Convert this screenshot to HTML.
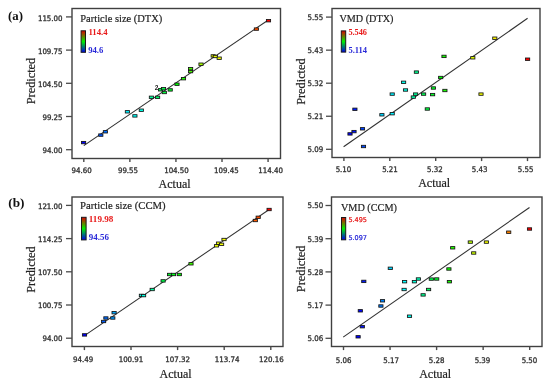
<!DOCTYPE html>
<html><head><meta charset="utf-8"><title>Predicted vs Actual</title>
<style>html,body{margin:0;padding:0;background:#fff;}body{width:550px;height:386px;overflow:hidden;}svg{display:block;}</style>
</head><body>
<svg width="550" height="386" viewBox="0 0 550 386"><defs><linearGradient id="gA" x1="0" y1="0" x2="0" y2="1"><stop offset="0" stop-color="#e00000"/><stop offset="0.5" stop-color="#00f000"/><stop offset="1" stop-color="#0000e8"/></linearGradient><linearGradient id="gB" x1="0" y1="0" x2="0" y2="1"><stop offset="0" stop-color="#e00000"/><stop offset="0.5" stop-color="#00f000"/><stop offset="1" stop-color="#0000e8"/></linearGradient><linearGradient id="gC" x1="0" y1="0" x2="0" y2="1"><stop offset="0" stop-color="#e00000"/><stop offset="0.5" stop-color="#00f000"/><stop offset="1" stop-color="#0000e8"/></linearGradient><linearGradient id="gD" x1="0" y1="0" x2="0" y2="1"><stop offset="0" stop-color="#e00000"/><stop offset="0.5" stop-color="#00f000"/><stop offset="1" stop-color="#0000e8"/></linearGradient></defs><rect width="550" height="386" fill="#fff"/><rect x="72" y="8.5" width="208.5" height="150" fill="none" stroke="#404040" stroke-width="1.4"/>
<line x1="66" y1="16.9" x2="72" y2="16.9" stroke="#4a4a4a" stroke-width="1.3"/>
<text x="62.6" y="20.6" font-size="7.5" font-family="'DejaVu Sans Condensed', 'DejaVu Sans', sans-serif" fill="#333" stroke="#333" stroke-width="0.32" text-anchor="end" textLength="24.7" lengthAdjust="spacingAndGlyphs">115.00</text>
<line x1="66" y1="50.1" x2="72" y2="50.1" stroke="#4a4a4a" stroke-width="1.3"/>
<text x="62.6" y="53.8" font-size="7.5" font-family="'DejaVu Sans Condensed', 'DejaVu Sans', sans-serif" fill="#333" stroke="#333" stroke-width="0.32" text-anchor="end" textLength="24.7" lengthAdjust="spacingAndGlyphs">109.75</text>
<line x1="66" y1="83.3" x2="72" y2="83.3" stroke="#4a4a4a" stroke-width="1.3"/>
<text x="62.6" y="87" font-size="7.5" font-family="'DejaVu Sans Condensed', 'DejaVu Sans', sans-serif" fill="#333" stroke="#333" stroke-width="0.32" text-anchor="end" textLength="24.7" lengthAdjust="spacingAndGlyphs">104.50</text>
<line x1="66" y1="116.5" x2="72" y2="116.5" stroke="#4a4a4a" stroke-width="1.3"/>
<text x="62.6" y="120.2" font-size="7.5" font-family="'DejaVu Sans Condensed', 'DejaVu Sans', sans-serif" fill="#333" stroke="#333" stroke-width="0.32" text-anchor="end" textLength="20.2" lengthAdjust="spacingAndGlyphs">99.25</text>
<line x1="66" y1="149.7" x2="72" y2="149.7" stroke="#4a4a4a" stroke-width="1.3"/>
<text x="62.6" y="153.4" font-size="7.5" font-family="'DejaVu Sans Condensed', 'DejaVu Sans', sans-serif" fill="#333" stroke="#333" stroke-width="0.32" text-anchor="end" textLength="20.2" lengthAdjust="spacingAndGlyphs">94.00</text>
<line x1="83.8" y1="158.5" x2="83.8" y2="162.1" stroke="#4a4a4a" stroke-width="1.4"/>
<text x="81.7" y="173" font-size="7.5" font-family="'DejaVu Sans Condensed', 'DejaVu Sans', sans-serif" fill="#333" stroke="#333" stroke-width="0.32" text-anchor="middle" textLength="20.2" lengthAdjust="spacingAndGlyphs">94.60</text>
<line x1="129.87" y1="158.5" x2="129.87" y2="162.1" stroke="#4a4a4a" stroke-width="1.4"/>
<text x="128" y="173" font-size="7.5" font-family="'DejaVu Sans Condensed', 'DejaVu Sans', sans-serif" fill="#333" stroke="#333" stroke-width="0.32" text-anchor="middle" textLength="20.2" lengthAdjust="spacingAndGlyphs">99.55</text>
<line x1="175.94" y1="158.5" x2="175.94" y2="162.1" stroke="#4a4a4a" stroke-width="1.4"/>
<text x="176.5" y="173" font-size="7.5" font-family="'DejaVu Sans Condensed', 'DejaVu Sans', sans-serif" fill="#333" stroke="#333" stroke-width="0.32" text-anchor="middle" textLength="24.7" lengthAdjust="spacingAndGlyphs">104.50</text>
<line x1="222.01" y1="158.5" x2="222.01" y2="162.1" stroke="#4a4a4a" stroke-width="1.4"/>
<text x="226.3" y="173" font-size="7.5" font-family="'DejaVu Sans Condensed', 'DejaVu Sans', sans-serif" fill="#333" stroke="#333" stroke-width="0.32" text-anchor="middle" textLength="24.7" lengthAdjust="spacingAndGlyphs">109.45</text>
<line x1="268.08" y1="158.5" x2="268.08" y2="162.1" stroke="#4a4a4a" stroke-width="1.4"/>
<text x="270.6" y="173" font-size="7.5" font-family="'DejaVu Sans Condensed', 'DejaVu Sans', sans-serif" fill="#333" stroke="#333" stroke-width="0.32" text-anchor="middle" textLength="24.7" lengthAdjust="spacingAndGlyphs">114.40</text>
<text x="174.6" y="187.8" font-size="12" font-family="'Liberation Serif', 'Times New Roman', serif" fill="#222" stroke="#222" stroke-width="0.2" text-anchor="middle" textLength="32" lengthAdjust="spacingAndGlyphs">Actual</text>
<text x="35" y="81" font-size="12" font-family="'Liberation Serif', 'Times New Roman', serif" fill="#222" stroke="#222" stroke-width="0.2" text-anchor="middle" textLength="46.5" lengthAdjust="spacingAndGlyphs" transform="rotate(-90 35 81)">Predicted</text>
<text x="80.3" y="21.7" font-size="11.3" font-family="'Liberation Serif', 'Times New Roman', serif" fill="#222" stroke="#222" stroke-width="0.2" textLength="82" lengthAdjust="spacingAndGlyphs">Particle size (DTX)</text>
<rect x="81.1" y="30.8" width="4.4" height="21.5" fill="url(#gA)" stroke="#1a1a1a" stroke-width="1"/>
<text x="88.4" y="35.1" font-size="8" font-family="'Liberation Serif', 'Times New Roman', serif" fill="#e81818" font-weight="bold" textLength="19.2" lengthAdjust="spacingAndGlyphs">114.4</text>
<text x="88.2" y="52.5" font-size="8" font-family="'Liberation Serif', 'Times New Roman', serif" fill="#2828d8" font-weight="bold" textLength="15.1" lengthAdjust="spacingAndGlyphs">94.6</text>
<line x1="83.8" y1="145.6" x2="268" y2="20.2" stroke="#303030" stroke-width="1.05"/>
<rect x="81.5" y="141.4" width="4.2" height="2.4" fill="#0000ff" stroke="#141414" stroke-width="0.85"/>
<rect x="98.7" y="133.9" width="4.2" height="2.4" fill="#0056ff" stroke="#141414" stroke-width="0.85"/>
<rect x="103.3" y="130.6" width="4.2" height="2.4" fill="#0070ff" stroke="#141414" stroke-width="0.85"/>
<rect x="125.3" y="110.6" width="4.2" height="2.4" fill="#00efff" stroke="#141414" stroke-width="0.85"/>
<rect x="132.8" y="114.7" width="4.2" height="2.4" fill="#00fffa" stroke="#141414" stroke-width="0.85"/>
<rect x="139.2" y="109" width="4.2" height="2.4" fill="#00ffe7" stroke="#141414" stroke-width="0.85"/>
<rect x="149.3" y="96.1" width="4.2" height="2.4" fill="#00ff9f" stroke="#141414" stroke-width="0.85"/>
<rect x="155.5" y="96.1" width="4.2" height="2.4" fill="#00ff6b" stroke="#141414" stroke-width="0.85"/>
<rect x="158.5" y="88.6" width="4.2" height="2.4" fill="#00ff52" stroke="#141414" stroke-width="0.85"/>
<rect x="161.4" y="87.5" width="4.2" height="2.4" fill="#00ff42" stroke="#141414" stroke-width="0.85"/>
<rect x="162.2" y="91.3" width="4.2" height="2.4" fill="#00ff3e" stroke="#141414" stroke-width="0.85"/>
<rect x="168.1" y="88.7" width="4.2" height="2.4" fill="#00ff23" stroke="#141414" stroke-width="0.85"/>
<rect x="174.9" y="83" width="4.2" height="2.4" fill="#00ff03" stroke="#141414" stroke-width="0.85"/>
<rect x="181.4" y="77.5" width="4.2" height="2.4" fill="#1eff00" stroke="#141414" stroke-width="0.85"/>
<rect x="188.5" y="67.5" width="4.2" height="2.4" fill="#46ff00" stroke="#141414" stroke-width="0.85"/>
<rect x="188.5" y="70.4" width="4.2" height="2.4" fill="#46ff00" stroke="#141414" stroke-width="0.85"/>
<rect x="198.9" y="63" width="4.2" height="2.4" fill="#a6ff00" stroke="#141414" stroke-width="0.85"/>
<rect x="211.1" y="54.7" width="4.2" height="2.4" fill="#eaff00" stroke="#141414" stroke-width="0.85"/>
<rect x="213.2" y="55.3" width="4.2" height="2.4" fill="#ecff00" stroke="#141414" stroke-width="0.85"/>
<rect x="217.1" y="57" width="4.2" height="2.4" fill="#f2ff00" stroke="#141414" stroke-width="0.85"/>
<rect x="254.3" y="27.9" width="4.2" height="2.4" fill="#ff5000" stroke="#141414" stroke-width="0.85"/>
<rect x="266.4" y="19.5" width="4.2" height="2.4" fill="#ff0000" stroke="#141414" stroke-width="0.85"/>
<text x="154.8" y="89.6" font-size="6.5" font-family="'Liberation Sans', Arial, sans-serif" fill="#222" font-weight="bold">2</text>
<rect x="332" y="8.5" width="208" height="149" fill="none" stroke="#404040" stroke-width="1.4"/>
<line x1="326" y1="17.1" x2="332" y2="17.1" stroke="#4a4a4a" stroke-width="1.3"/>
<text x="323.3" y="19.5" font-size="7.7" font-family="'DejaVu Sans Condensed', 'DejaVu Sans', sans-serif" fill="#333" stroke="#333" stroke-width="0.32" text-anchor="end" textLength="15.7" lengthAdjust="spacingAndGlyphs">5.55</text>
<line x1="326" y1="50.15" x2="332" y2="50.15" stroke="#4a4a4a" stroke-width="1.3"/>
<text x="323.3" y="52.55" font-size="7.7" font-family="'DejaVu Sans Condensed', 'DejaVu Sans', sans-serif" fill="#333" stroke="#333" stroke-width="0.32" text-anchor="end" textLength="15.7" lengthAdjust="spacingAndGlyphs">5.43</text>
<line x1="326" y1="83.2" x2="332" y2="83.2" stroke="#4a4a4a" stroke-width="1.3"/>
<text x="323.3" y="85.6" font-size="7.7" font-family="'DejaVu Sans Condensed', 'DejaVu Sans', sans-serif" fill="#333" stroke="#333" stroke-width="0.32" text-anchor="end" textLength="15.7" lengthAdjust="spacingAndGlyphs">5.32</text>
<line x1="326" y1="116.25" x2="332" y2="116.25" stroke="#4a4a4a" stroke-width="1.3"/>
<text x="323.3" y="118.65" font-size="7.7" font-family="'DejaVu Sans Condensed', 'DejaVu Sans', sans-serif" fill="#333" stroke="#333" stroke-width="0.32" text-anchor="end" textLength="15.7" lengthAdjust="spacingAndGlyphs">5.21</text>
<line x1="326" y1="149.3" x2="332" y2="149.3" stroke="#4a4a4a" stroke-width="1.3"/>
<text x="323.3" y="151.7" font-size="7.7" font-family="'DejaVu Sans Condensed', 'DejaVu Sans', sans-serif" fill="#333" stroke="#333" stroke-width="0.32" text-anchor="end" textLength="15.7" lengthAdjust="spacingAndGlyphs">5.09</text>
<line x1="343.9" y1="157.5" x2="343.9" y2="161.1" stroke="#4a4a4a" stroke-width="1.4"/>
<text x="343.5" y="171.9" font-size="7.7" font-family="'DejaVu Sans Condensed', 'DejaVu Sans', sans-serif" fill="#333" stroke="#333" stroke-width="0.32" text-anchor="middle" textLength="15.7" lengthAdjust="spacingAndGlyphs">5.10</text>
<line x1="389.8" y1="157.5" x2="389.8" y2="161.1" stroke="#4a4a4a" stroke-width="1.4"/>
<text x="390" y="171.9" font-size="7.7" font-family="'DejaVu Sans Condensed', 'DejaVu Sans', sans-serif" fill="#333" stroke="#333" stroke-width="0.32" text-anchor="middle" textLength="15.7" lengthAdjust="spacingAndGlyphs">5.21</text>
<line x1="435.7" y1="157.5" x2="435.7" y2="161.1" stroke="#4a4a4a" stroke-width="1.4"/>
<text x="434.8" y="171.9" font-size="7.7" font-family="'DejaVu Sans Condensed', 'DejaVu Sans', sans-serif" fill="#333" stroke="#333" stroke-width="0.32" text-anchor="middle" textLength="15.7" lengthAdjust="spacingAndGlyphs">5.32</text>
<line x1="481.6" y1="157.5" x2="481.6" y2="161.1" stroke="#4a4a4a" stroke-width="1.4"/>
<text x="479.7" y="171.9" font-size="7.7" font-family="'DejaVu Sans Condensed', 'DejaVu Sans', sans-serif" fill="#333" stroke="#333" stroke-width="0.32" text-anchor="middle" textLength="15.7" lengthAdjust="spacingAndGlyphs">5.43</text>
<line x1="527.5" y1="157.5" x2="527.5" y2="161.1" stroke="#4a4a4a" stroke-width="1.4"/>
<text x="525.7" y="171.9" font-size="7.7" font-family="'DejaVu Sans Condensed', 'DejaVu Sans', sans-serif" fill="#333" stroke="#333" stroke-width="0.32" text-anchor="middle" textLength="15.7" lengthAdjust="spacingAndGlyphs">5.55</text>
<text x="434.2" y="186.9" font-size="12" font-family="'Liberation Serif', 'Times New Roman', serif" fill="#222" stroke="#222" stroke-width="0.2" text-anchor="middle" textLength="32" lengthAdjust="spacingAndGlyphs">Actual</text>
<text x="305" y="81.6" font-size="12" font-family="'Liberation Serif', 'Times New Roman', serif" fill="#222" stroke="#222" stroke-width="0.2" text-anchor="middle" textLength="46.5" lengthAdjust="spacingAndGlyphs" transform="rotate(-90 305 81.6)">Predicted</text>
<text x="339.4" y="22.1" font-size="11.3" font-family="'Liberation Serif', 'Times New Roman', serif" fill="#222" stroke="#222" stroke-width="0.2" textLength="54" lengthAdjust="spacingAndGlyphs">VMD (DTX)</text>
<rect x="341.3" y="30.9" width="4.4" height="21.2" fill="url(#gB)" stroke="#1a1a1a" stroke-width="1"/>
<text x="348.4" y="35.2" font-size="8" font-family="'Liberation Serif', 'Times New Roman', serif" fill="#e81818" font-weight="bold" textLength="18.6" lengthAdjust="spacingAndGlyphs">5.546</text>
<text x="348.4" y="52.6" font-size="8" font-family="'Liberation Serif', 'Times New Roman', serif" fill="#2828d8" font-weight="bold" textLength="18.6" lengthAdjust="spacingAndGlyphs">5.114</text>
<line x1="343.6" y1="146.8" x2="527.6" y2="18.3" stroke="#303030" stroke-width="1.05"/>
<rect x="352.8" y="108.1" width="4.2" height="2.4" fill="#001bff" stroke="#141414" stroke-width="0.85"/>
<rect x="347.9" y="132.7" width="4.2" height="2.4" fill="#0002ff" stroke="#141414" stroke-width="0.85"/>
<rect x="351.9" y="130.4" width="4.2" height="2.4" fill="#0017ff" stroke="#141414" stroke-width="0.85"/>
<rect x="360.4" y="127.6" width="4.2" height="2.4" fill="#0043ff" stroke="#141414" stroke-width="0.85"/>
<rect x="361.4" y="145.3" width="4.2" height="2.4" fill="#0049ff" stroke="#141414" stroke-width="0.85"/>
<rect x="379.8" y="113.6" width="4.2" height="2.4" fill="#00d5ff" stroke="#141414" stroke-width="0.85"/>
<rect x="390.1" y="112.5" width="4.2" height="2.4" fill="#00f1ff" stroke="#141414" stroke-width="0.85"/>
<rect x="390.1" y="92.9" width="4.2" height="2.4" fill="#00f1ff" stroke="#141414" stroke-width="0.85"/>
<rect x="401.5" y="81.1" width="4.2" height="2.4" fill="#00ffed" stroke="#141414" stroke-width="0.85"/>
<rect x="403.4" y="88.8" width="4.2" height="2.4" fill="#00ffe4" stroke="#141414" stroke-width="0.85"/>
<rect x="411.2" y="95.9" width="4.2" height="2.4" fill="#00ffaa" stroke="#141414" stroke-width="0.85"/>
<rect x="413.5" y="92.9" width="4.2" height="2.4" fill="#00ff98" stroke="#141414" stroke-width="0.85"/>
<rect x="414.3" y="70.9" width="4.2" height="2.4" fill="#00ff91" stroke="#141414" stroke-width="0.85"/>
<rect x="421.5" y="92.9" width="4.2" height="2.4" fill="#00ff53" stroke="#141414" stroke-width="0.85"/>
<rect x="425.2" y="107.8" width="4.2" height="2.4" fill="#00ff3e" stroke="#141414" stroke-width="0.85"/>
<rect x="430.5" y="93.4" width="4.2" height="2.4" fill="#00ff25" stroke="#141414" stroke-width="0.85"/>
<rect x="431.3" y="86.8" width="4.2" height="2.4" fill="#00ff21" stroke="#141414" stroke-width="0.85"/>
<rect x="438.6" y="76.3" width="4.2" height="2.4" fill="#02ff00" stroke="#141414" stroke-width="0.85"/>
<rect x="442.8" y="89.3" width="4.2" height="2.4" fill="#19ff00" stroke="#141414" stroke-width="0.85"/>
<rect x="441.9" y="55.2" width="4.2" height="2.4" fill="#14ff00" stroke="#141414" stroke-width="0.85"/>
<rect x="470.7" y="56.6" width="4.2" height="2.4" fill="#e1ff00" stroke="#141414" stroke-width="0.85"/>
<rect x="492.7" y="37" width="4.2" height="2.4" fill="#fff700" stroke="#141414" stroke-width="0.85"/>
<rect x="525.5" y="58" width="4.2" height="2.4" fill="#ff0000" stroke="#141414" stroke-width="0.85"/>
<rect x="478.9" y="92.9" width="4.2" height="2.4" fill="#f3ff00" stroke="#141414" stroke-width="0.85"/>
<rect x="72" y="197" width="211" height="149.5" fill="none" stroke="#404040" stroke-width="1.4"/>
<line x1="66" y1="205.4" x2="72" y2="205.4" stroke="#4a4a4a" stroke-width="1.3"/>
<text x="62.6" y="208.6" font-size="7.5" font-family="'DejaVu Sans Condensed', 'DejaVu Sans', sans-serif" fill="#333" stroke="#333" stroke-width="0.32" text-anchor="end" textLength="24.7" lengthAdjust="spacingAndGlyphs">121.00</text>
<line x1="66" y1="238.6" x2="72" y2="238.6" stroke="#4a4a4a" stroke-width="1.3"/>
<text x="62.6" y="241.8" font-size="7.5" font-family="'DejaVu Sans Condensed', 'DejaVu Sans', sans-serif" fill="#333" stroke="#333" stroke-width="0.32" text-anchor="end" textLength="24.7" lengthAdjust="spacingAndGlyphs">114.25</text>
<line x1="66" y1="271.8" x2="72" y2="271.8" stroke="#4a4a4a" stroke-width="1.3"/>
<text x="62.6" y="275" font-size="7.5" font-family="'DejaVu Sans Condensed', 'DejaVu Sans', sans-serif" fill="#333" stroke="#333" stroke-width="0.32" text-anchor="end" textLength="24.7" lengthAdjust="spacingAndGlyphs">107.50</text>
<line x1="66" y1="305" x2="72" y2="305" stroke="#4a4a4a" stroke-width="1.3"/>
<text x="62.6" y="308.2" font-size="7.5" font-family="'DejaVu Sans Condensed', 'DejaVu Sans', sans-serif" fill="#333" stroke="#333" stroke-width="0.32" text-anchor="end" textLength="24.7" lengthAdjust="spacingAndGlyphs">100.75</text>
<line x1="66" y1="338.2" x2="72" y2="338.2" stroke="#4a4a4a" stroke-width="1.3"/>
<text x="62.6" y="341.4" font-size="7.5" font-family="'DejaVu Sans Condensed', 'DejaVu Sans', sans-serif" fill="#333" stroke="#333" stroke-width="0.32" text-anchor="end" textLength="20.2" lengthAdjust="spacingAndGlyphs">94.00</text>
<line x1="84.4" y1="346.5" x2="84.4" y2="350.1" stroke="#4a4a4a" stroke-width="1.4"/>
<text x="83.1" y="362.2" font-size="7.5" font-family="'DejaVu Sans Condensed', 'DejaVu Sans', sans-serif" fill="#333" stroke="#333" stroke-width="0.32" text-anchor="middle" textLength="20.2" lengthAdjust="spacingAndGlyphs">94.49</text>
<line x1="131" y1="346.5" x2="131" y2="350.1" stroke="#4a4a4a" stroke-width="1.4"/>
<text x="131" y="362.2" font-size="7.5" font-family="'DejaVu Sans Condensed', 'DejaVu Sans', sans-serif" fill="#333" stroke="#333" stroke-width="0.32" text-anchor="middle" textLength="24.7" lengthAdjust="spacingAndGlyphs">100.91</text>
<line x1="177.6" y1="346.5" x2="177.6" y2="350.1" stroke="#4a4a4a" stroke-width="1.4"/>
<text x="177.6" y="362.2" font-size="7.5" font-family="'DejaVu Sans Condensed', 'DejaVu Sans', sans-serif" fill="#333" stroke="#333" stroke-width="0.32" text-anchor="middle" textLength="24.7" lengthAdjust="spacingAndGlyphs">107.32</text>
<line x1="224.2" y1="346.5" x2="224.2" y2="350.1" stroke="#4a4a4a" stroke-width="1.4"/>
<text x="227.2" y="362.2" font-size="7.5" font-family="'DejaVu Sans Condensed', 'DejaVu Sans', sans-serif" fill="#333" stroke="#333" stroke-width="0.32" text-anchor="middle" textLength="24.7" lengthAdjust="spacingAndGlyphs">113.74</text>
<line x1="270.8" y1="346.5" x2="270.8" y2="350.1" stroke="#4a4a4a" stroke-width="1.4"/>
<text x="271.3" y="362.2" font-size="7.5" font-family="'DejaVu Sans Condensed', 'DejaVu Sans', sans-serif" fill="#333" stroke="#333" stroke-width="0.32" text-anchor="middle" textLength="24.7" lengthAdjust="spacingAndGlyphs">120.16</text>
<text x="175.6" y="378" font-size="12" font-family="'Liberation Serif', 'Times New Roman', serif" fill="#222" stroke="#222" stroke-width="0.2" text-anchor="middle" textLength="32" lengthAdjust="spacingAndGlyphs">Actual</text>
<text x="35.1" y="269.5" font-size="12" font-family="'Liberation Serif', 'Times New Roman', serif" fill="#222" stroke="#222" stroke-width="0.2" text-anchor="middle" textLength="46.5" lengthAdjust="spacingAndGlyphs" transform="rotate(-90 35.1 269.5)">Predicted</text>
<text x="80.1" y="209.4" font-size="11.3" font-family="'Liberation Serif', 'Times New Roman', serif" fill="#222" stroke="#222" stroke-width="0.2" textLength="85.5" lengthAdjust="spacingAndGlyphs">Particle size (CCM)</text>
<rect x="81.5" y="217.3" width="4.6" height="22.6" fill="url(#gC)" stroke="#1a1a1a" stroke-width="1"/>
<text x="88.8" y="222.1" font-size="8" font-family="'Liberation Serif', 'Times New Roman', serif" fill="#e81818" font-weight="bold" textLength="24.5" lengthAdjust="spacingAndGlyphs">119.98</text>
<text x="88.8" y="240.4" font-size="8" font-family="'Liberation Serif', 'Times New Roman', serif" fill="#2828d8" font-weight="bold" textLength="20.1" lengthAdjust="spacingAndGlyphs">94.56</text>
<line x1="84.5" y1="335.6" x2="269.2" y2="209.5" stroke="#303030" stroke-width="1.05"/>
<rect x="82.4" y="333.7" width="4.2" height="2.4" fill="#0000ff" stroke="#141414" stroke-width="0.85"/>
<rect x="101.5" y="320.3" width="4.2" height="2.4" fill="#005eff" stroke="#141414" stroke-width="0.85"/>
<rect x="103.8" y="316.8" width="4.2" height="2.4" fill="#006cff" stroke="#141414" stroke-width="0.85"/>
<rect x="110.7" y="316.8" width="4.2" height="2.4" fill="#0097ff" stroke="#141414" stroke-width="0.85"/>
<rect x="112" y="311.5" width="4.2" height="2.4" fill="#00a6ff" stroke="#141414" stroke-width="0.85"/>
<rect x="139.3" y="294.2" width="4.2" height="2.4" fill="#00ffeb" stroke="#141414" stroke-width="0.85"/>
<rect x="141.5" y="294.4" width="4.2" height="2.4" fill="#00ffdf" stroke="#141414" stroke-width="0.85"/>
<rect x="150.1" y="288.3" width="4.2" height="2.4" fill="#00ffa2" stroke="#141414" stroke-width="0.85"/>
<rect x="161" y="279.7" width="4.2" height="2.4" fill="#00ff49" stroke="#141414" stroke-width="0.85"/>
<rect x="167.5" y="273.3" width="4.2" height="2.4" fill="#00ff2b" stroke="#141414" stroke-width="0.85"/>
<rect x="171.4" y="273.3" width="4.2" height="2.4" fill="#00ff19" stroke="#141414" stroke-width="0.85"/>
<rect x="177.2" y="273.3" width="4.2" height="2.4" fill="#02ff00" stroke="#141414" stroke-width="0.85"/>
<rect x="188.9" y="262.6" width="4.2" height="2.4" fill="#3fff00" stroke="#141414" stroke-width="0.85"/>
<rect x="214.4" y="244.6" width="4.2" height="2.4" fill="#ecff00" stroke="#141414" stroke-width="0.85"/>
<rect x="216.4" y="242" width="4.2" height="2.4" fill="#efff00" stroke="#141414" stroke-width="0.85"/>
<rect x="219.5" y="243.1" width="4.2" height="2.4" fill="#f3ff00" stroke="#141414" stroke-width="0.85"/>
<rect x="221.9" y="238.3" width="4.2" height="2.4" fill="#f7ff00" stroke="#141414" stroke-width="0.85"/>
<rect x="253.2" y="219.3" width="4.2" height="2.4" fill="#ff5a00" stroke="#141414" stroke-width="0.85"/>
<rect x="256.1" y="216.1" width="4.2" height="2.4" fill="#ff4d00" stroke="#141414" stroke-width="0.85"/>
<rect x="267" y="208.3" width="4.2" height="2.4" fill="#ff0200" stroke="#141414" stroke-width="0.85"/>
<rect x="331.5" y="197" width="210.5" height="149.5" fill="none" stroke="#404040" stroke-width="1.4"/>
<line x1="325.5" y1="205.5" x2="331.5" y2="205.5" stroke="#4a4a4a" stroke-width="1.3"/>
<text x="323.2" y="208.3" font-size="7.7" font-family="'DejaVu Sans Condensed', 'DejaVu Sans', sans-serif" fill="#333" stroke="#333" stroke-width="0.32" text-anchor="end" textLength="15.7" lengthAdjust="spacingAndGlyphs">5.50</text>
<line x1="325.5" y1="238.7" x2="331.5" y2="238.7" stroke="#4a4a4a" stroke-width="1.3"/>
<text x="323.2" y="241.5" font-size="7.7" font-family="'DejaVu Sans Condensed', 'DejaVu Sans', sans-serif" fill="#333" stroke="#333" stroke-width="0.32" text-anchor="end" textLength="15.7" lengthAdjust="spacingAndGlyphs">5.39</text>
<line x1="325.5" y1="271.9" x2="331.5" y2="271.9" stroke="#4a4a4a" stroke-width="1.3"/>
<text x="323.2" y="274.7" font-size="7.7" font-family="'DejaVu Sans Condensed', 'DejaVu Sans', sans-serif" fill="#333" stroke="#333" stroke-width="0.32" text-anchor="end" textLength="15.7" lengthAdjust="spacingAndGlyphs">5.28</text>
<line x1="325.5" y1="305.1" x2="331.5" y2="305.1" stroke="#4a4a4a" stroke-width="1.3"/>
<text x="323.2" y="307.9" font-size="7.7" font-family="'DejaVu Sans Condensed', 'DejaVu Sans', sans-serif" fill="#333" stroke="#333" stroke-width="0.32" text-anchor="end" textLength="15.7" lengthAdjust="spacingAndGlyphs">5.17</text>
<line x1="325.5" y1="338.3" x2="331.5" y2="338.3" stroke="#4a4a4a" stroke-width="1.3"/>
<text x="323.2" y="341.1" font-size="7.7" font-family="'DejaVu Sans Condensed', 'DejaVu Sans', sans-serif" fill="#333" stroke="#333" stroke-width="0.32" text-anchor="end" textLength="15.7" lengthAdjust="spacingAndGlyphs">5.06</text>
<line x1="343.5" y1="346.5" x2="343.5" y2="350.1" stroke="#4a4a4a" stroke-width="1.4"/>
<text x="343.7" y="363.3" font-size="7.7" font-family="'DejaVu Sans Condensed', 'DejaVu Sans', sans-serif" fill="#333" stroke="#333" stroke-width="0.32" text-anchor="middle" textLength="15.7" lengthAdjust="spacingAndGlyphs">5.06</text>
<line x1="390.05" y1="346.5" x2="390.05" y2="350.1" stroke="#4a4a4a" stroke-width="1.4"/>
<text x="391.1" y="363.3" font-size="7.7" font-family="'DejaVu Sans Condensed', 'DejaVu Sans', sans-serif" fill="#333" stroke="#333" stroke-width="0.32" text-anchor="middle" textLength="15.7" lengthAdjust="spacingAndGlyphs">5.17</text>
<line x1="436.6" y1="346.5" x2="436.6" y2="350.1" stroke="#4a4a4a" stroke-width="1.4"/>
<text x="436.6" y="363.3" font-size="7.7" font-family="'DejaVu Sans Condensed', 'DejaVu Sans', sans-serif" fill="#333" stroke="#333" stroke-width="0.32" text-anchor="middle" textLength="15.7" lengthAdjust="spacingAndGlyphs">5.28</text>
<line x1="483.15" y1="346.5" x2="483.15" y2="350.1" stroke="#4a4a4a" stroke-width="1.4"/>
<text x="482.5" y="363.3" font-size="7.7" font-family="'DejaVu Sans Condensed', 'DejaVu Sans', sans-serif" fill="#333" stroke="#333" stroke-width="0.32" text-anchor="middle" textLength="15.7" lengthAdjust="spacingAndGlyphs">5.39</text>
<line x1="529.7" y1="346.5" x2="529.7" y2="350.1" stroke="#4a4a4a" stroke-width="1.4"/>
<text x="529.5" y="363.3" font-size="7.7" font-family="'DejaVu Sans Condensed', 'DejaVu Sans', sans-serif" fill="#333" stroke="#333" stroke-width="0.32" text-anchor="middle" textLength="15.7" lengthAdjust="spacingAndGlyphs">5.50</text>
<text x="435.2" y="378" font-size="12" font-family="'Liberation Serif', 'Times New Roman', serif" fill="#222" stroke="#222" stroke-width="0.2" text-anchor="middle" textLength="32" lengthAdjust="spacingAndGlyphs">Actual</text>
<text x="305" y="268.9" font-size="12" font-family="'Liberation Serif', 'Times New Roman', serif" fill="#222" stroke="#222" stroke-width="0.2" text-anchor="middle" textLength="46.5" lengthAdjust="spacingAndGlyphs" transform="rotate(-90 305 268.9)">Predicted</text>
<text x="340.9" y="210.8" font-size="11.3" font-family="'Liberation Serif', 'Times New Roman', serif" fill="#222" stroke="#222" stroke-width="0.2" textLength="56" lengthAdjust="spacingAndGlyphs">VMD (CCM)</text>
<rect x="341.5" y="217.5" width="4.2" height="22.3" fill="url(#gD)" stroke="#1a1a1a" stroke-width="1"/>
<text x="348.4" y="221.8" font-size="6.6" font-family="'DejaVu Sans Condensed', 'DejaVu Sans', sans-serif" fill="#e81818" stroke="#e81818" stroke-width="0.2" textLength="18.6" lengthAdjust="spacingAndGlyphs">5.495</text>
<text x="348.4" y="240.3" font-size="6.6" font-family="'DejaVu Sans Condensed', 'DejaVu Sans', sans-serif" fill="#2828d8" stroke="#2828d8" stroke-width="0.2" textLength="18.6" lengthAdjust="spacingAndGlyphs">5.097</text>
<line x1="343.2" y1="337.1" x2="529.5" y2="207.5" stroke="#303030" stroke-width="1.05"/>
<rect x="356" y="335.6" width="4.2" height="2.4" fill="#0000ff" stroke="#141414" stroke-width="0.85"/>
<rect x="360.2" y="325.5" width="4.2" height="2.4" fill="#0011ff" stroke="#141414" stroke-width="0.85"/>
<rect x="358.2" y="309.6" width="4.2" height="2.4" fill="#0006ff" stroke="#141414" stroke-width="0.85"/>
<rect x="361.7" y="280.2" width="4.2" height="2.4" fill="#0019ff" stroke="#141414" stroke-width="0.85"/>
<rect x="378.8" y="304.8" width="4.2" height="2.4" fill="#007bff" stroke="#141414" stroke-width="0.85"/>
<rect x="380.4" y="299.6" width="4.2" height="2.4" fill="#0086ff" stroke="#141414" stroke-width="0.85"/>
<rect x="388.2" y="267.1" width="4.2" height="2.4" fill="#00d5ff" stroke="#141414" stroke-width="0.85"/>
<rect x="402.5" y="280.5" width="4.2" height="2.4" fill="#00feff" stroke="#141414" stroke-width="0.85"/>
<rect x="402" y="288.3" width="4.2" height="2.4" fill="#00fdff" stroke="#141414" stroke-width="0.85"/>
<rect x="407.4" y="315" width="4.2" height="2.4" fill="#00fff1" stroke="#141414" stroke-width="0.85"/>
<rect x="412.3" y="280.5" width="4.2" height="2.4" fill="#00ffd7" stroke="#141414" stroke-width="0.85"/>
<rect x="416.3" y="277.8" width="4.2" height="2.4" fill="#00ffb8" stroke="#141414" stroke-width="0.85"/>
<rect x="421" y="293.7" width="4.2" height="2.4" fill="#00ff91" stroke="#141414" stroke-width="0.85"/>
<rect x="426.5" y="288.3" width="4.2" height="2.4" fill="#00ff5f" stroke="#141414" stroke-width="0.85"/>
<rect x="429.2" y="277.9" width="4.2" height="2.4" fill="#00ff49" stroke="#141414" stroke-width="0.85"/>
<rect x="434.6" y="277.8" width="4.2" height="2.4" fill="#00ff2e" stroke="#141414" stroke-width="0.85"/>
<rect x="446.8" y="267.8" width="4.2" height="2.4" fill="#11ff00" stroke="#141414" stroke-width="0.85"/>
<rect x="447.3" y="280.5" width="4.2" height="2.4" fill="#14ff00" stroke="#141414" stroke-width="0.85"/>
<rect x="450.6" y="246.6" width="4.2" height="2.4" fill="#26ff00" stroke="#141414" stroke-width="0.85"/>
<rect x="468.2" y="240.9" width="4.2" height="2.4" fill="#b9ff00" stroke="#141414" stroke-width="0.85"/>
<rect x="471.6" y="251.8" width="4.2" height="2.4" fill="#cdff00" stroke="#141414" stroke-width="0.85"/>
<rect x="484.3" y="240.9" width="4.2" height="2.4" fill="#f5ff00" stroke="#141414" stroke-width="0.85"/>
<rect x="506.6" y="231" width="4.2" height="2.4" fill="#ff8300" stroke="#141414" stroke-width="0.85"/>
<rect x="527.4" y="227.8" width="4.2" height="2.4" fill="#ff0000" stroke="#141414" stroke-width="0.85"/>
<text x="8" y="19.9" font-size="13" font-family="'Liberation Serif', 'Times New Roman', serif" fill="#111" font-weight="bold" textLength="15" lengthAdjust="spacingAndGlyphs">(a)</text>
<text x="8.3" y="207.4" font-size="13" font-family="'Liberation Serif', 'Times New Roman', serif" fill="#111" font-weight="bold" textLength="16.2" lengthAdjust="spacingAndGlyphs">(b)</text></svg>
</body></html>
